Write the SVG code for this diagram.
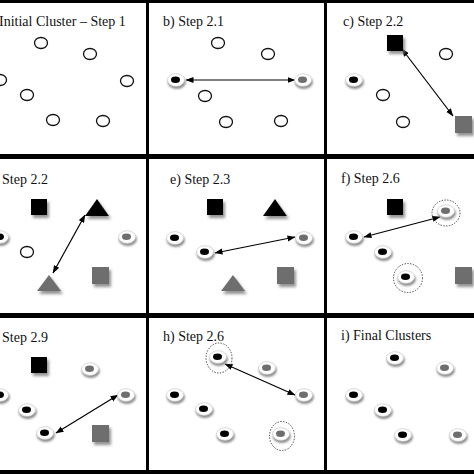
<svg xmlns="http://www.w3.org/2000/svg" xmlns:xlink="http://www.w3.org/1999/xlink" width="474" height="474" viewBox="0 0 474 474">
<style>
.lbl{font-family:"Liberation Serif","Times New Roman",serif;font-size:14px;fill:#111}
.open{fill:#fff;stroke:#111;stroke-width:1.3}
.conn{stroke:#000;stroke-width:1.2;fill:none;marker-start:url(#ah);marker-end:url(#ah)}
.ring{fill:none;stroke:#333;stroke-width:0.9;stroke-dasharray:1.4 1.4}
.sqB{fill:#000;filter:url(#ds)}
.sqG{fill:#6e6e6e;filter:url(#ds)}
.grid{fill:#000}
</style>
<defs>
<filter id="ds" x="-50%" y="-50%" width="200%" height="200%">
<feDropShadow dx="2" dy="3" stdDeviation="1.5" flood-color="#777" flood-opacity="0.8"/>
</filter>
<filter id="bl" x="-50%" y="-50%" width="200%" height="200%">
<feGaussianBlur stdDeviation="1.1"/>
</filter>
<marker id="ah" markerUnits="userSpaceOnUse" markerWidth="8" markerHeight="7" refX="7.5" refY="3" orient="auto-start-reverse">
<path d="M0,0 L8,3 L0,6 z" fill="#000"/>
</marker>
<g id="dotB">
<ellipse cx="0.8" cy="2.2" rx="9" ry="6.8" fill="#8c8c8c" filter="url(#bl)"/>
<ellipse cx="0" cy="0" rx="8.5" ry="6.3" fill="#fff" stroke="#d0d0d0" stroke-width="0.8"/>
<ellipse cx="-0.5" cy="-0.3" rx="4.5" ry="3.3" fill="#000"/>
</g>
<g id="dotG">
<ellipse cx="0.8" cy="2.2" rx="9" ry="6.8" fill="#8c8c8c" filter="url(#bl)"/>
<ellipse cx="0" cy="0" rx="8.5" ry="6.3" fill="#fff" stroke="#d0d0d0" stroke-width="0.8"/>
<ellipse cx="-0.5" cy="-0.3" rx="4.5" ry="3.3" fill="#6e6e6e"/>
</g>
</defs>
<rect width="474" height="474" fill="#fff"/>
<g id="grid">
<rect class="grid" x="0" y="0" width="474" height="3"/>
<rect class="grid" x="0" y="154" width="474" height="5"/>
<rect class="grid" x="0" y="313" width="474" height="5"/>
<rect class="grid" x="0" y="470" width="474" height="4"/>
<rect class="grid" x="146" y="0" width="3" height="474"/>
<rect class="grid" x="324" y="0" width="3" height="474"/>
</g>
<g id="labels">
<text class="lbl" x="-1" y="26">Initial Cluster – Step 1</text>
<text class="lbl" x="163" y="26">b) Step 2.1</text>
<text class="lbl" x="343" y="26">c) Step 2.2</text>
<text class="lbl" x="2" y="184">Step 2.2</text>
<text class="lbl" x="170" y="184">e) Step 2.3</text>
<text class="lbl" x="341" y="183">f) Step 2.6</text>
<text class="lbl" x="2" y="342">Step 2.9</text>
<text class="lbl" x="163" y="341">h) Step 2.6</text>
<text class="lbl" x="341" y="340">i) Final Clusters</text>
</g>
<g id="connectors">
<line class="conn" x1="186" y1="80" x2="295" y2="80"/>
<line class="conn" x1="402" y1="49" x2="453" y2="116"/>
<line class="conn" x1="53" y1="273" x2="85" y2="215"/>
<line class="conn" x1="215" y1="253" x2="295" y2="237"/>
<line class="conn" x1="364" y1="237" x2="440" y2="217"/>
<line class="conn" x1="56" y1="433" x2="118" y2="395"/>
<line class="conn" x1="225" y1="364" x2="295" y2="395"/>
</g>
<!-- panel a -->
<g id="a1"><ellipse class="open" cx="41" cy="43" rx="6.5" ry="5.5"/></g>
<g id="a2"><ellipse class="open" cx="90" cy="54" rx="6.5" ry="5.5"/></g>
<g id="a3"><ellipse class="open" cx="0" cy="80" rx="6.5" ry="5.5"/></g>
<g id="a4"><ellipse class="open" cx="127" cy="81" rx="6.5" ry="5.5"/></g>
<g id="a5"><ellipse class="open" cx="27" cy="95" rx="6.5" ry="5.5"/></g>
<g id="a6"><ellipse class="open" cx="53" cy="120" rx="6.5" ry="5.5"/></g>
<g id="a7"><ellipse class="open" cx="103" cy="121" rx="6.5" ry="5.5"/></g>
<!-- panel b -->
<g id="b1"><ellipse class="open" cx="218" cy="43" rx="6.5" ry="5.5"/></g>
<g id="b2"><ellipse class="open" cx="268" cy="54" rx="6.5" ry="5.5"/></g>
<g id="b3"><use xlink:href="#dotB" x="176" y="80"/></g>
<g id="b4"><use xlink:href="#dotG" x="303" y="80"/></g>
<g id="b5"><ellipse class="open" cx="205" cy="96" rx="6.5" ry="5.5"/></g>
<g id="b6"><ellipse class="open" cx="226" cy="122" rx="6.5" ry="5.5"/></g>
<g id="b7"><ellipse class="open" cx="281" cy="121" rx="6.5" ry="5.5"/></g>
<!-- panel c -->
<g id="c1"><rect class="sqB" x="387" y="35" width="16" height="16"/></g>
<g id="c2"><ellipse class="open" cx="446" cy="54" rx="6.5" ry="5.5"/></g>
<g id="c3"><use xlink:href="#dotB" x="354" y="80"/></g>
<g id="c4"><ellipse class="open" cx="383" cy="95" rx="6.5" ry="5.5"/></g>
<g id="c5"><ellipse class="open" cx="403" cy="122" rx="6.5" ry="5.5"/></g>
<g id="c6"><rect class="sqG" x="455" y="116" width="17" height="17"/></g>
<!-- panel d -->
<g id="d1"><rect class="sqB" x="31" y="199" width="16" height="16"/></g>
<g id="d2"><polygon points="97,199 109,216 85,216" fill="#000" filter="url(#ds)"/></g>
<g id="d3"><use xlink:href="#dotB" x="0" y="237"/></g>
<g id="d4"><ellipse class="open" cx="27" cy="252" rx="6.5" ry="5.5"/></g>
<g id="d5"><use xlink:href="#dotG" x="127" y="237"/></g>
<g id="d6"><polygon points="49,275 61,291 37,291" fill="#6e6e6e" filter="url(#ds)"/></g>
<g id="d7"><rect class="sqG" x="92" y="267" width="17" height="17"/></g>
<!-- panel e -->
<g id="e1"><rect class="sqB" x="207" y="199" width="16" height="16"/></g>
<g id="e2"><polygon points="275,199 287,216 263,216" fill="#000" filter="url(#ds)"/></g>
<g id="e3"><use xlink:href="#dotB" x="175" y="238"/></g>
<g id="e4"><use xlink:href="#dotB" x="205" y="252"/></g>
<g id="e5"><use xlink:href="#dotG" x="304" y="238"/></g>
<g id="e6"><polygon points="233,275 245,291 221,291" fill="#6e6e6e" filter="url(#ds)"/></g>
<g id="e7"><rect class="sqG" x="277" y="267" width="17" height="17"/></g>
<!-- panel f -->
<g id="f1"><rect class="sqB" x="387" y="199" width="16" height="16"/></g>
<g id="f2"><use xlink:href="#dotG" x="446" y="211"/><ellipse class="ring" cx="446" cy="213" rx="14" ry="13"/></g>
<g id="f3"><use xlink:href="#dotB" x="354" y="237"/></g>
<g id="f4"><use xlink:href="#dotB" x="383" y="252"/></g>
<g id="f5"><use xlink:href="#dotB" x="406" y="277"/><ellipse class="ring" cx="408" cy="278" rx="14.5" ry="14.5"/></g>
<g id="f6"><rect class="sqG" x="455" y="267" width="17" height="17"/></g>
<!-- panel g -->
<g id="g1"><rect class="sqB" x="31" y="357" width="16" height="16"/></g>
<g id="g2"><use xlink:href="#dotG" x="90" y="369"/></g>
<g id="g3"><use xlink:href="#dotB" x="0" y="395"/></g>
<g id="g4"><use xlink:href="#dotB" x="27" y="410"/></g>
<g id="g5"><use xlink:href="#dotB" x="45" y="433"/></g>
<g id="g6"><use xlink:href="#dotG" x="126" y="395"/></g>
<g id="g7"><rect class="sqG" x="92" y="425" width="17" height="17"/></g>
<!-- panel h -->
<g id="h1"><use xlink:href="#dotB" x="218" y="357"/><ellipse class="ring" cx="219" cy="358" rx="13" ry="15"/></g>
<g id="h2"><use xlink:href="#dotG" x="267" y="368"/></g>
<g id="h3"><use xlink:href="#dotB" x="175" y="395"/></g>
<g id="h4"><use xlink:href="#dotB" x="204" y="409"/></g>
<g id="h5"><use xlink:href="#dotB" x="225" y="434"/></g>
<g id="h6"><use xlink:href="#dotG" x="304" y="395"/></g>
<g id="h7"><use xlink:href="#dotG" x="281" y="434"/><ellipse class="ring" cx="282" cy="436" rx="12.5" ry="14.5"/></g>
<!-- panel i -->
<g id="i1"><use xlink:href="#dotB" x="395" y="358"/></g>
<g id="i2"><use xlink:href="#dotG" x="445" y="368"/></g>
<g id="i3"><use xlink:href="#dotB" x="354" y="395"/></g>
<g id="i4"><use xlink:href="#dotB" x="383" y="410"/></g>
<g id="i5"><use xlink:href="#dotB" x="403" y="435"/></g>
<g id="i6"><use xlink:href="#dotG" x="458" y="435"/></g>
</svg>
